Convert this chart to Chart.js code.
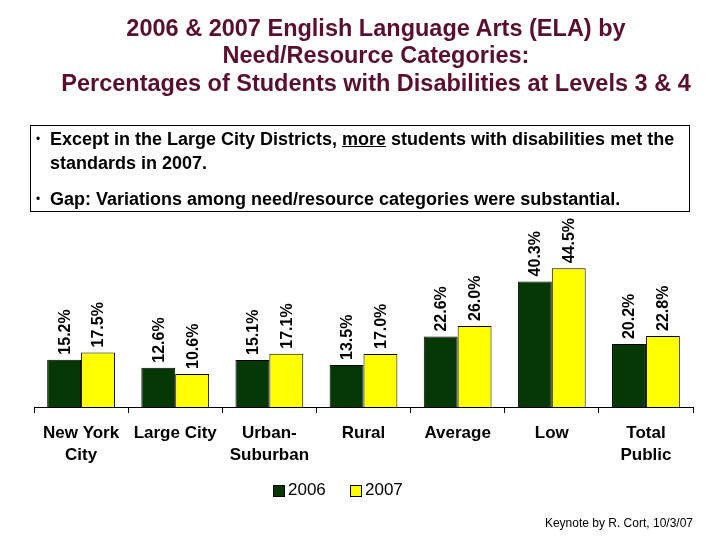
<!DOCTYPE html>
<html>
<head>
<meta charset="utf-8">
<script src="https://cdn.jsdelivr.net/npm/chart.js@4.4.0/dist/chart.umd.min.js"></script>
<style>
  html, body { margin: 0; padding: 0; background: #fff; }
  body { width: 720px; height: 540px; position: relative; overflow: hidden; font-family: "Liberation Sans", Arial, sans-serif; }
  #title { position: absolute; left: 32px; width: 688px; top: 15px; text-align: center; color: #5a0f2e; font-weight: bold; font-size: 23.5px; line-height: 27.3px; white-space: nowrap; }
  #box { position: absolute; left: 30px; top: 125px; width: 658px; height: 85px; border: 1px solid #000; font-weight: bold; font-size: 18px; line-height: 23.5px; }
  #box p { margin: 0; position: absolute; left: 19px; right: 0; white-space: nowrap; }
  #box p::before { content: "\2022"; position: absolute; left: -14px; font-size: 12px; font-weight: normal; }
  #legend { position: absolute; top: 480px; left: 0; width: 720px; font-size: 17px; }
  .item { position: absolute; top: 0; line-height: 20px; }
  .sw { position: absolute; top: 5px; width: 10px; height: 10px; border: 1px solid #000; }
  #foot { position: absolute; right: 27px; top: 516px; font-size: 12px; }
  #c { position: absolute; left: 0; top: 0; }
</style>
</head>
<body>
<canvas id="c" width="720" height="540"></canvas>
<div id="title">2006 &amp; 2007 English Language Arts (ELA) by<br>Need/Resource Categories:<br>Percentages of Students with Disabilities at Levels 3 &amp; 4</div>
<div id="box">
  <p style="top:2px">Except in the Large City Districts, <u>more</u> students with disabilities met the<br>standards in 2007.</p>
  <p style="top:62px">Gap: Variations among need/resource categories were substantial.</p>
</div>
<div id="legend"></div>
<div id="foot">Keynote by R. Cort, 10/3/07</div>
<script>
const categories = [['New York', 'City'], ['Large City'], ['Urban-', 'Suburban'], ['Rural'], ['Average'], ['Low'], ['Total', 'Public']];
const seriesNames = ['2006', '2007'];
const values2006 = [15.2, 12.6, 15.1, 13.5, 22.6, 40.3, 20.2];
const values2007 = [17.5, 10.6, 17.1, 17.0, 26.0, 44.5, 22.8];
const colors = ['#063806', '#ffff00'];

// rotated value labels above each bar
const barLabels = {
    id: 'barLabels',
    afterDatasetsDraw(chart) {
        const ctx = chart.ctx;
        ctx.save();
        ctx.font = 'bold 16px "Liberation Sans", Arial, sans-serif';
        ctx.fillStyle = '#000';
        chart.data.datasets.forEach((ds, i) => {
            chart.getDatasetMeta(i).data.forEach((bar, j) => {
                ctx.save();
                ctx.translate(bar.x + 1, bar.y - 5);
                ctx.rotate(-Math.PI / 2);
                ctx.textAlign = 'left';
                ctx.textBaseline = 'middle';
                ctx.fillText(ds.data[j].toFixed(1) + '%', 0, 0);
                ctx.restore();
            });
        });
        ctx.restore();
    }
};

new Chart(document.getElementById('c'), {
    type: 'bar',
    data: {
        labels: categories,
        datasets: [
            { label: seriesNames[0], data: values2006, backgroundColor: colors[0], borderColor: '#000', borderWidth: 1 },
            { label: seriesNames[1], data: values2007, backgroundColor: colors[1], borderColor: '#000', borderWidth: 1 }
        ]
    },
    options: {
        responsive: false,
        animation: false,
        events: [],
        layout: { padding: { left: 34, right: 27, top: 220, bottom: 73 } },
        categoryPercentage: 0.72,
        barPercentage: 1.0,
        scales: {
            x: {
                afterFit(scale) { scale.height = 60; },
                grid: { offset: true, drawOnChartArea: false, drawTicks: true, tickLength: 6, color: '#000' },
                border: { color: '#000', width: 1 },
                ticks: { color: '#000', padding: 10, maxRotation: 0, autoSkip: false, font: { family: '"Liberation Sans", Arial, sans-serif', size: 17, weight: 'bold', lineHeight: 1.25 } }
            },
            y: { display: false, min: 0, max: 60 }
        },
        plugins: { legend: { display: false }, tooltip: { enabled: false } }
    },
    plugins: [barLabels]
});

// legend
const legend = document.getElementById('legend');
const legendX = [273, 350];
seriesNames.forEach((name, i) => {
    const it = document.createElement('div');
    it.className = 'item';
    it.style.left = legendX[i] + 'px';
    it.innerHTML = '<span class="sw" style="left:0;background:' + colors[i] + '"></span><span style="margin-left:15px">' + name + '</span>';
    legend.appendChild(it);
});
</script>
</body>
</html>
